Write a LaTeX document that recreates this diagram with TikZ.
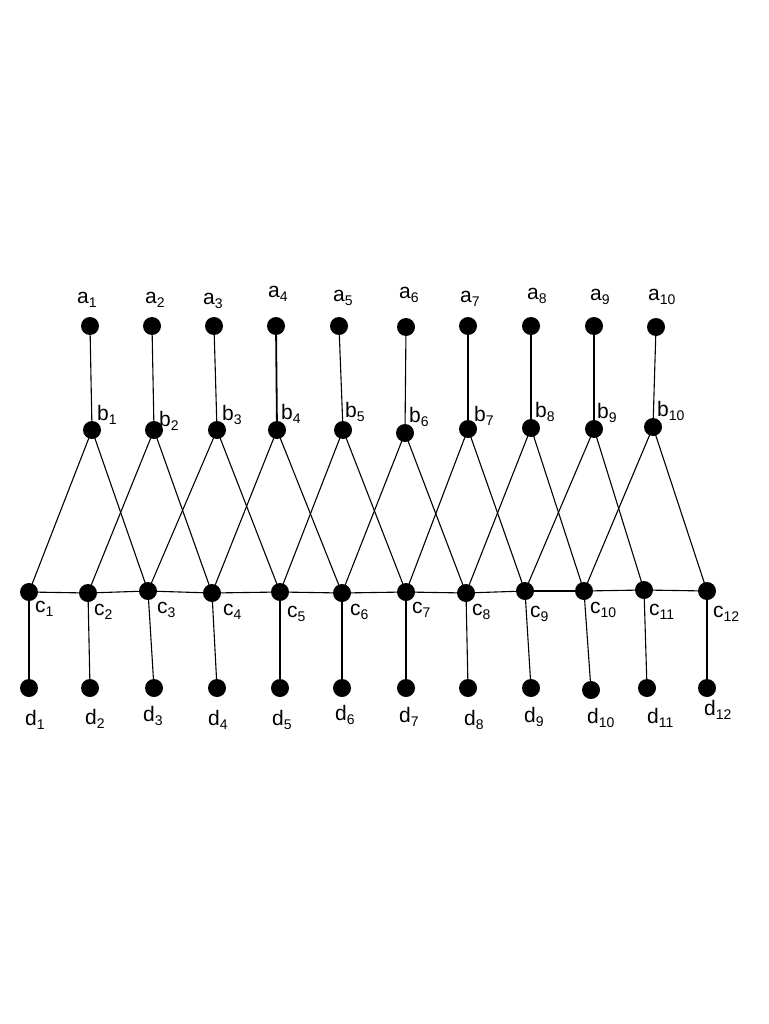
\documentclass[tikz,border=0pt]{standalone}
\usepackage{fontspec}
\setmainfont{Liberation Sans}
\newcommand{\lab}[2]{#1\raisebox{-4pt}{\fontsize{14}{15}\selectfont #2}}
\begin{document}
\begin{tikzpicture}[x=1pt,y=-1pt,
  vtx/.style={circle,fill=black,minimum size=18pt,inner sep=0pt},
  edge/.style={line width=1.1pt},
  thickedge/.style={line width=1.8pt},
  lbl/.style={anchor=base west,inner sep=0pt,font=\fontsize{21}{23}\selectfont}]
\useasboundingbox[fill=white] (0,0) rectangle (768,1024);
% vertices
\foreach \i/\x/\y in {1/90/326,2/152/326,3/214/326,4/276/326,5/339/326,6/406/327,7/468/326,8/531/326,9/594/326,10/656/327}
  \coordinate (pa\i) at (\x,\y);
\foreach \i/\x/\y in {1/92/430,2/154/430,3/217/430,4/277/430,5/343/430,6/405/433,7/468/429,8/531/428,9/594/429,10/653/427}
  \coordinate (pb\i) at (\x,\y);
\foreach \i/\x/\y in {1/29/592,2/88/593,3/148/591,4/212/593,5/280/592,6/342/593,7/406/592,8/466/593,9/525/591,10/584/591,11/644/590,12/707/591}
  \coordinate (pc\i) at (\x,\y);
\foreach \i/\x/\y in {1/29/688,2/90/688,3/154/688,4/217/688,5/280/688,6/342/688,7/406/688,8/468/688,9/531/688,10/591/690,11/647/688,12/707/688}
  \coordinate (pd\i) at (\x,\y);
% edges
\foreach \i in {1,2,3,5,6,7,8,10} \draw[edge] (pa\i) -- (pb\i);
\foreach \i in {4,9} \draw[thickedge] (pa\i) -- (pb\i);
\foreach \i [evaluate=\i as \j using int(\i+2)] in {1,...,10} {
  \draw[edge] (pb\i) -- (pc\i);
  \draw[edge] (pb\i) -- (pc\j);
}
\foreach \i [evaluate=\i as \j using int(\i+1)] in {1,...,11} \draw[edge] (pc\i) -- (pc\j);
\foreach \i in {1,...,12} \draw[edge] (pc\i) -- (pd\i);
% vertex discs
\foreach \i in {1,...,10} { \node[vtx] (a\i) at (pa\i) {}; \node[vtx] (b\i) at (pb\i) {}; }
\foreach \i in {1,...,12} { \node[vtx] (c\i) at (pc\i) {}; \node[vtx] (d\i) at (pd\i) {}; }
% labels a
\foreach \i/\x/\y in {1/77/303,2/145/303,3/203/304,4/268/297,5/333/301,6/399/298,7/460/302,8/527/299,9/590/300,10/648/300}
  \node[lbl] (la\i) at (\x,\y) {\lab{a}{\i}};
% labels b
\foreach \i/\x/\y in {1/97/420,2/159/426,3/222/420,4/281/419,5/345/417,6/409/422,7/474/421,8/535/417,9/597/418,10/657/416}
  \node[lbl] (lb\i) at (\x,\y) {\lab{b}{\i}};
% labels c
\foreach \i/\x/\y in {1/35/612,2/94/615,3/157/613,4/223/615,5/287/617,6/350/615,7/412/613,8/472/615,9/530/617,10/590/613,11/649/615,12/713/617}
  \node[lbl] (lc\i) at (\x,\y) {\lab{c}{\i}};
% labels d
\foreach \i/\x/\y in {1/25/725,2/85/724,3/143/721,4/208/725,5/272/725,6/335/720,7/399/722,8/464/725,9/524/722,10/587/723,11/647/723,12/704/715}
  \node[lbl] (ld\i) at (\x,\y) {\lab{d}{\i}};
\end{tikzpicture}
\end{document}
